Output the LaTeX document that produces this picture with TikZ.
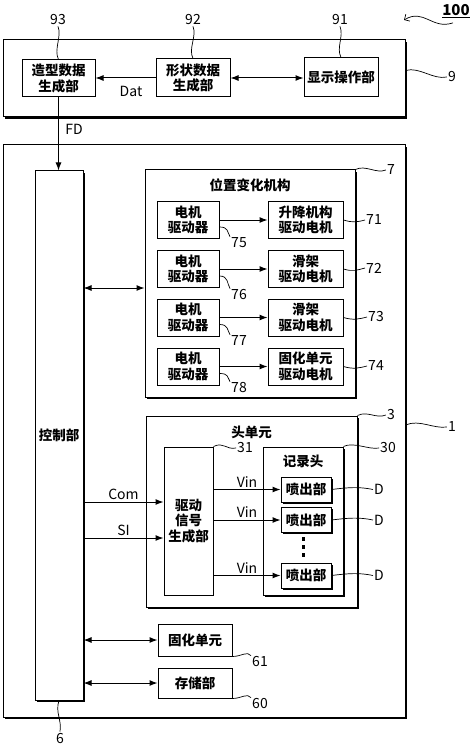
\documentclass[tikz,border=0pt]{standalone}
\usepackage{fontspec}
\setmainfont{Noto Sans CJK SC}
\usetikzlibrary{arrows.meta,shadows}

\newcommand\blkfont{\fontsize{13.5}{15.5}\selectfont\bfseries}
\newcommand\labfont{\fontsize{14}{16}\selectfont}

\tikzset{
  blk/.style={draw, line width=1pt, fill=white, inner sep=0pt, align=center, font=\blkfont},
  blks/.style={blk, drop shadow={shadow xshift=1.8pt, shadow yshift=-1.8pt, opacity=1, fill=black}},
  arr/.style={line width=1pt, -{Latex[length=8pt,width=6pt]}},
  darr/.style={line width=1pt, {Latex[length=8pt,width=6pt]}-{Latex[length=8pt,width=6pt]}},
  lead/.style={line width=0.7pt},
  num/.style={inner sep=1pt, font=\labfont},
}

\begin{document}
\begin{tikzpicture}[x=1pt,y=-1pt]
  \useasboundingbox (0,0) rectangle (474,746);

  % unit 9
  \node[blks, minimum width=402pt, minimum height=77pt] (box9) at (204,78.5) {};
  \node[blk, minimum width=73pt, minimum height=37pt] (n93) at (58.5,78.5) {造型数据\\生成部};
  \node[blk, minimum width=74pt, minimum height=38pt] (n92) at (193,78) {形状数据\\生成部};
  \node[blk, minimum width=74pt, minimum height=39pt] (n91) at (341,77.5) {显示操作部};
  \draw[arr] (n92.west) -- (n92.west -| n93.east);
  \draw[darr] (n92.east) -- (n92.east -| n91.west);
  \node[num] (dat) at (131,91) {Dat};

  \node[num] (l93) at (58,20) {93};
  \node[num] (l92) at (193,20) {92};
  \node[num] (l91) at (340,20) {91};
  \node[num] (l9) at (452,77) {9};
  \draw[lead] (n93.north) .. controls +(-5,-10) and +(4,10) .. (l93.south);
  \draw[lead] (n92.north) .. controls +(-5,-10) and +(4,10) .. (l92.south);
  \draw[lead] (n91.north) .. controls +(-5,-10) and +(4,10) .. (l91.south);
  \draw[lead] ([yshift=8pt]box9.east) .. controls +(14,-4) and +(-14,3) .. (l9.west);

  \node[num, font=\fontsize{15}{17}\selectfont\bfseries] (l100) at (456,11) {\underline{100}};
  \coordinate (p100) at (404,20);
  \draw[lead, -{Straight Barb[length=4pt]}] ([xshift=-3pt,yshift=-4pt]l100.south) .. controls (432,30) and (424,8) .. (p100);

  % unit 1
  \node[blks, minimum width=402pt, minimum height=572pt] (box1) at (204,431) {};
  \node[blks, minimum width=48pt, minimum height=529pt] (n6) at (59,435.5) {控制部};
  \draw[arr] (n93.south) -- (n93.south |- n6.north);
  \node[num] (fd) at (74,129) {FD};

  % position change mechanism 7
  \node[blks, minimum width=210pt, minimum height=227pt] (box7) at (250,283.5) {};
  \node[font=\blkfont] (t7) at (250,185) {位置变化机构};
  \node[blk, minimum width=62pt, minimum height=37pt] (md1) at (188,220) {电机\\驱动器};
  \node[blk, minimum width=62pt, minimum height=37pt] (md2) at (188,269) {电机\\驱动器};
  \node[blk, minimum width=62pt, minimum height=37pt] (md3) at (188,317.5) {电机\\驱动器};
  \node[blk, minimum width=62pt, minimum height=37pt] (md4) at (188,366.5) {电机\\驱动器};
  \node[blk, minimum width=75pt, minimum height=37pt] (mm1) at (305.5,220) {升降机构\\驱动电机};
  \node[blk, minimum width=75pt, minimum height=37pt] (mm2) at (305.5,269) {滑架\\驱动电机};
  \node[blk, minimum width=75pt, minimum height=37pt] (mm3) at (305.5,317.5) {滑架\\驱动电机};
  \node[blk, minimum width=75pt, minimum height=37pt] (mm4) at (305.5,366.5) {固化单元\\驱动电机};
  \draw[arr] (md1.east) -- (mm1.west);
  \draw[arr] (md2.east) -- (mm2.west);
  \draw[arr] (md3.east) -- (mm3.west);
  \draw[arr] (md4.east) -- (mm4.west);
  \draw[darr] (md2.south -| n6.east) -- (md2.south -| box7.west);

  \node[num] (l7) at (391,170) {7};
  \node[num] (l71) at (374,220) {71};
  \node[num] (l72) at (374,268) {72};
  \node[num] (l73) at (376,317) {73};
  \node[num] (l74) at (376,366) {74};
  \node[num] (l75) at (239,243) {75};
  \node[num] (l76) at (239,295) {76};
  \node[num] (l77) at (239,341) {77};
  \node[num] (l78) at (239,388) {78};
  \draw[lead] (box7.north east) .. controls +(10,-5) and +(-10,4) .. (l7.west);
  \draw[lead] (mm1.east) .. controls +(10,3) and +(-8,2) .. (l71.west);
  \draw[lead] (mm2.east) .. controls +(10,3) and +(-8,2) .. (l72.west);
  \draw[lead] (mm3.east) .. controls +(10,3) and +(-8,2) .. (l73.west);
  \draw[lead] (mm4.east) .. controls +(10,3) and +(-8,2) .. (l74.west);
  \draw[lead] ([yshift=-7pt]md1.east) .. controls +(9,0) and +(-3,-5) .. (l75.north west);
  \draw[lead] ([yshift=-7pt]md2.east) .. controls +(9,0) and +(-3,-5) .. (l76.north west);
  \draw[lead] ([yshift=-7pt]md3.east) .. controls +(9,0) and +(-3,-5) .. (l77.north west);
  \draw[lead] ([yshift=-7pt]md4.east) .. controls +(9,0) and +(-3,-5) .. (l78.north west);

  % head unit 3
  \node[blks, minimum width=211pt, minimum height=191pt] (box3) at (251.5,511.5) {};
  \node[font=\blkfont] (t3) at (251.5,432) {头单元};
  \node[blk, minimum width=49pt, minimum height=148pt] (n31) at (188.5,521) {驱动\\信号\\生成部};
  \node[blks, minimum width=80pt, minimum height=148pt] (n30) at (303,521) {};
  \node[font=\blkfont] (t30) at (303,461) {记录头};
  \node[blks, minimum width=50pt, minimum height=25pt] (nz1) at (306,489.5) {喷出部};
  \node[blks, minimum width=50pt, minimum height=25pt] (nz2) at (306,520) {喷出部};
  \node[blks, minimum width=50pt, minimum height=25pt] (nz3) at (306,575.5) {喷出部};
  \foreach \k in {537,545,553}
    \fill (301.5,\k) rectangle +(3.5,3.5);
  \draw[arr] (n31.east |- nz1.west) -- node[above, inner sep=2pt, font=\labfont] {Vin} (nz1.west);
  \draw[arr] (n31.east |- nz2.west) -- node[above, inner sep=2pt, font=\labfont] {Vin} (nz2.west);
  \draw[arr] (n31.east |- nz3.west) -- node[above, inner sep=2pt, font=\labfont] {Vin} (nz3.west);
  \draw[arr] ([yshift=19pt]n31.west -| n6.east) -- node[above, inner sep=2pt, font=\labfont] {Com} ([yshift=19pt]n31.west);
  \draw[arr] ([yshift=-17pt]n31.west -| n6.east) -- node[above, inner sep=2pt, font=\labfont] {SI} ([yshift=-17pt]n31.west);

  \node[num] (l1) at (452,427) {1};
  \node[num] (l3) at (391,415) {3};
  \node[num] (l31) at (245,448) {31};
  \node[num] (l30) at (388,448) {30};
  \node[num] (ld1) at (379,489.5) {D};
  \node[num] (ld2) at (379,520) {D};
  \node[num] (ld3) at (379,575.5) {D};
  \draw[lead] ([yshift=6pt]box1.east) .. controls +(14,-6) and +(-14,2) .. (l1.west);
  \draw[lead] (box3.north east) .. controls +(10,-5) and +(-10,4) .. (l3.west);
  \draw[lead] (n31.north east) .. controls +(10,-5) and +(-10,2) .. (l31.west);
  \draw[lead] (n30.north east) .. controls +(10,-5) and +(-10,2) .. (l30.west);
  \draw[lead] (nz1.east) .. controls +(16,-2) and +(-14,-3) .. (ld1.west);
  \draw[lead] (nz2.east) .. controls +(16,-2) and +(-14,-3) .. (ld2.west);
  \draw[lead] (nz3.east) .. controls +(16,-2) and +(-14,-3) .. (ld3.west);

  % curing unit 61, storage 60
  \node[blk, minimum width=74pt, minimum height=32pt] (n61) at (195,640) {固化单元};
  \node[blk, minimum width=74pt, minimum height=30pt] (n60) at (195,683) {存储部};
  \draw[darr] (n6.east |- n61.west) -- (n61.west);
  \draw[darr] (n6.east |- n60.west) -- (n60.west);

  \node[num] (l61) at (260,662) {61};
  \node[num] (l60) at (260,704) {60};
  \node[num] (l6) at (60,738) {6};
  \draw[lead] (n61.south east) .. controls +(9,0) and +(-4,-5) .. (l61.north west);
  \draw[lead] (n60.south east) .. controls +(9,0) and +(-4,-5) .. (l60.north west);
  \draw[lead] (n6.south) .. controls +(-4,12) and +(2,-12) .. (l6.north);
\end{tikzpicture}
\end{document}
